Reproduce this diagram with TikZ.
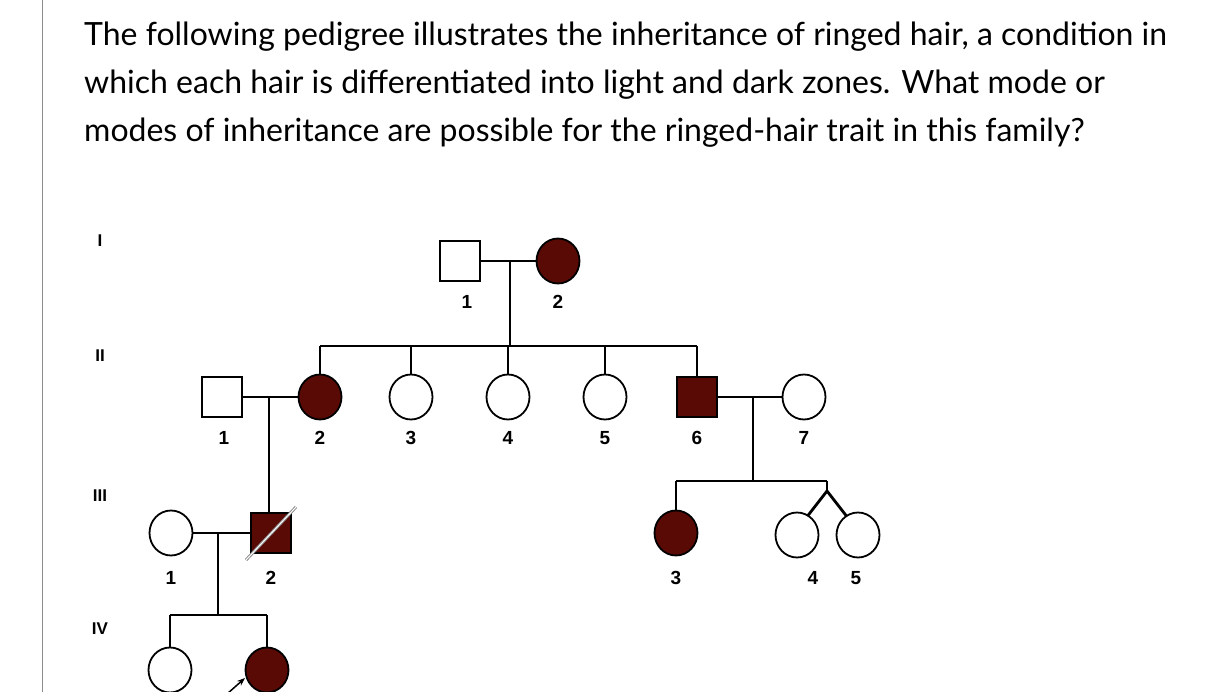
\documentclass[tikz,border=0pt]{standalone}
\usepackage{fontspec}
\setmainfont{Lato}
\newfontfamily\labfont{Liberation Sans}
\usetikzlibrary{shapes.geometric,arrows.meta}
\begin{document}
\begin{tikzpicture}[x=1pt,y=-1pt,
  aff/.style={fill=aff},
  sq/.style={draw=black,line width=1.8pt,minimum size=40pt,inner sep=0pt,fill=white},
  ci/.style={draw=black,line width=1.8pt,ellipse,minimum width=43pt,minimum height=45pt,inner sep=0pt,fill=white},
  ln/.style={line width=2.8pt},
  lab/.style={font=\labfont\bfseries\fontsize{19}{20}\selectfont},
  gen/.style={font=\labfont\bfseries\fontsize{17}{20}\selectfont},
  qt/.style={font=\fontsize{32}{48}\selectfont,anchor=base west,inner sep=0pt}]
\definecolor{aff}{HTML}{5A0A05}
\useasboundingbox (0,0) rectangle (1208,692);
\draw[line width=1pt,black!45] (42,0) -- (42,692);
\node[qt] (t1) at (84,46) {The following pedigree illustrates the inheritance of ringed hair, a condition in};
\node[qt] (t2) at (84,94) {which each hair is differentiated into light and dark zones. What mode or};
\node[qt] (t3) at (84,142) {modes of inheritance are possible for the ringed-hair trait in this family?};
% generation labels
\node[gen] (gI) at (100,241) {I};
\node[gen] (gII) at (100,356) {II};
\node[gen] (gIII) at (100,496) {III};
\node[gen] (gIV) at (100,629) {IV};
% coordinates
\coordinate (m1) at (510,261);
\coordinate (s1) at (510,346);
\coordinate (s1l) at (320,346);
\coordinate (s1r) at (697,346);
\coordinate (m2) at (269,397);
\coordinate (m3) at (753,397);
\coordinate (s3) at (753,481);
\coordinate (s3l) at (676,481);
\coordinate (s3r) at (827,481);
\coordinate (tw) at (827,491);
\coordinate (m4) at (218,533);
\coordinate (s4) at (218,615);
\coordinate (s4l) at (170,615);
\coordinate (s4r) at (267,615);
% lines (drawn first)
\draw[ln] (460,261) -- (558,261);
\draw[ln] (m1) -- (s1);
\draw[ln] (s1l) -- (s1r);
\foreach \x in {320,411,508,605,697} \draw[ln] (\x,346) -- (\x,380);
\draw[ln] (222,397) -- (320,397);
\draw[ln] (697,397) -- (804,397);
\draw[ln] (m2) -- (269,520);
\draw[ln] (m3) -- (s3);
\draw[ln] (s3l) -- (s3r);
\draw[ln] (s3l) -- (676,515);
\draw[ln] (s3r) -- (tw);
\draw[ln] (tw) -- (806,518);
\draw[ln] (tw) -- (848,518);
\draw[ln] (171,533) -- (271,533);
\draw[ln] (m4) -- (s4);
\draw[ln] (s4l) -- (s4r);
\draw[ln] (s4l) -- (170,650);
\draw[ln] (s4r) -- (267,650);
% Gen I
\node[sq] (I1) at (460,261) {};
\node[ci,aff] (I2) at (558,261) {};
\node[lab] (lI1) at (467,302) {1};
\node[lab] (lI2) at (558,302) {2};
% Gen II
\node[sq] (II1) at (222,397) {};
\node[ci,aff] (II2) at (320,397) {};
\node[ci] (II3) at (411,397) {};
\node[ci] (II4) at (508,397) {};
\node[ci] (II5) at (605,397) {};
\node[sq,aff] (II6) at (697,397) {};
\node[ci] (II7) at (804,397) {};
\foreach \x/\n in {224/1,320/2,411/3,508/4,605/5,697/6,804/7} \node[lab] at (\x,438) {\n};
% Gen III
\node[ci] (III1) at (171,533) {};
\node[sq,aff] (III2) at (271,533) {};
\node[ci,aff] (III3) at (676,533) {};
\node[ci] (III4) at (797,535) {};
\node[ci] (III5) at (858,535) {};
\draw[line width=3pt,black!45] (246,560) -- (296,507);
\draw[line width=1pt,white] (246,560) -- (296,507);
\foreach \x/\n in {171/1,271/2,676/3,813/4,856/5} \node[lab] at (\x,578) {\n};
% Gen IV
\node[ci] (IV1) at (170,670) {};
\node[ci,aff] (IV2) at (267,670) {};
\draw[line width=1.5pt,-{Stealth[length=8pt]}] (227,694) -- (245,678);
\end{tikzpicture}
\end{document}
